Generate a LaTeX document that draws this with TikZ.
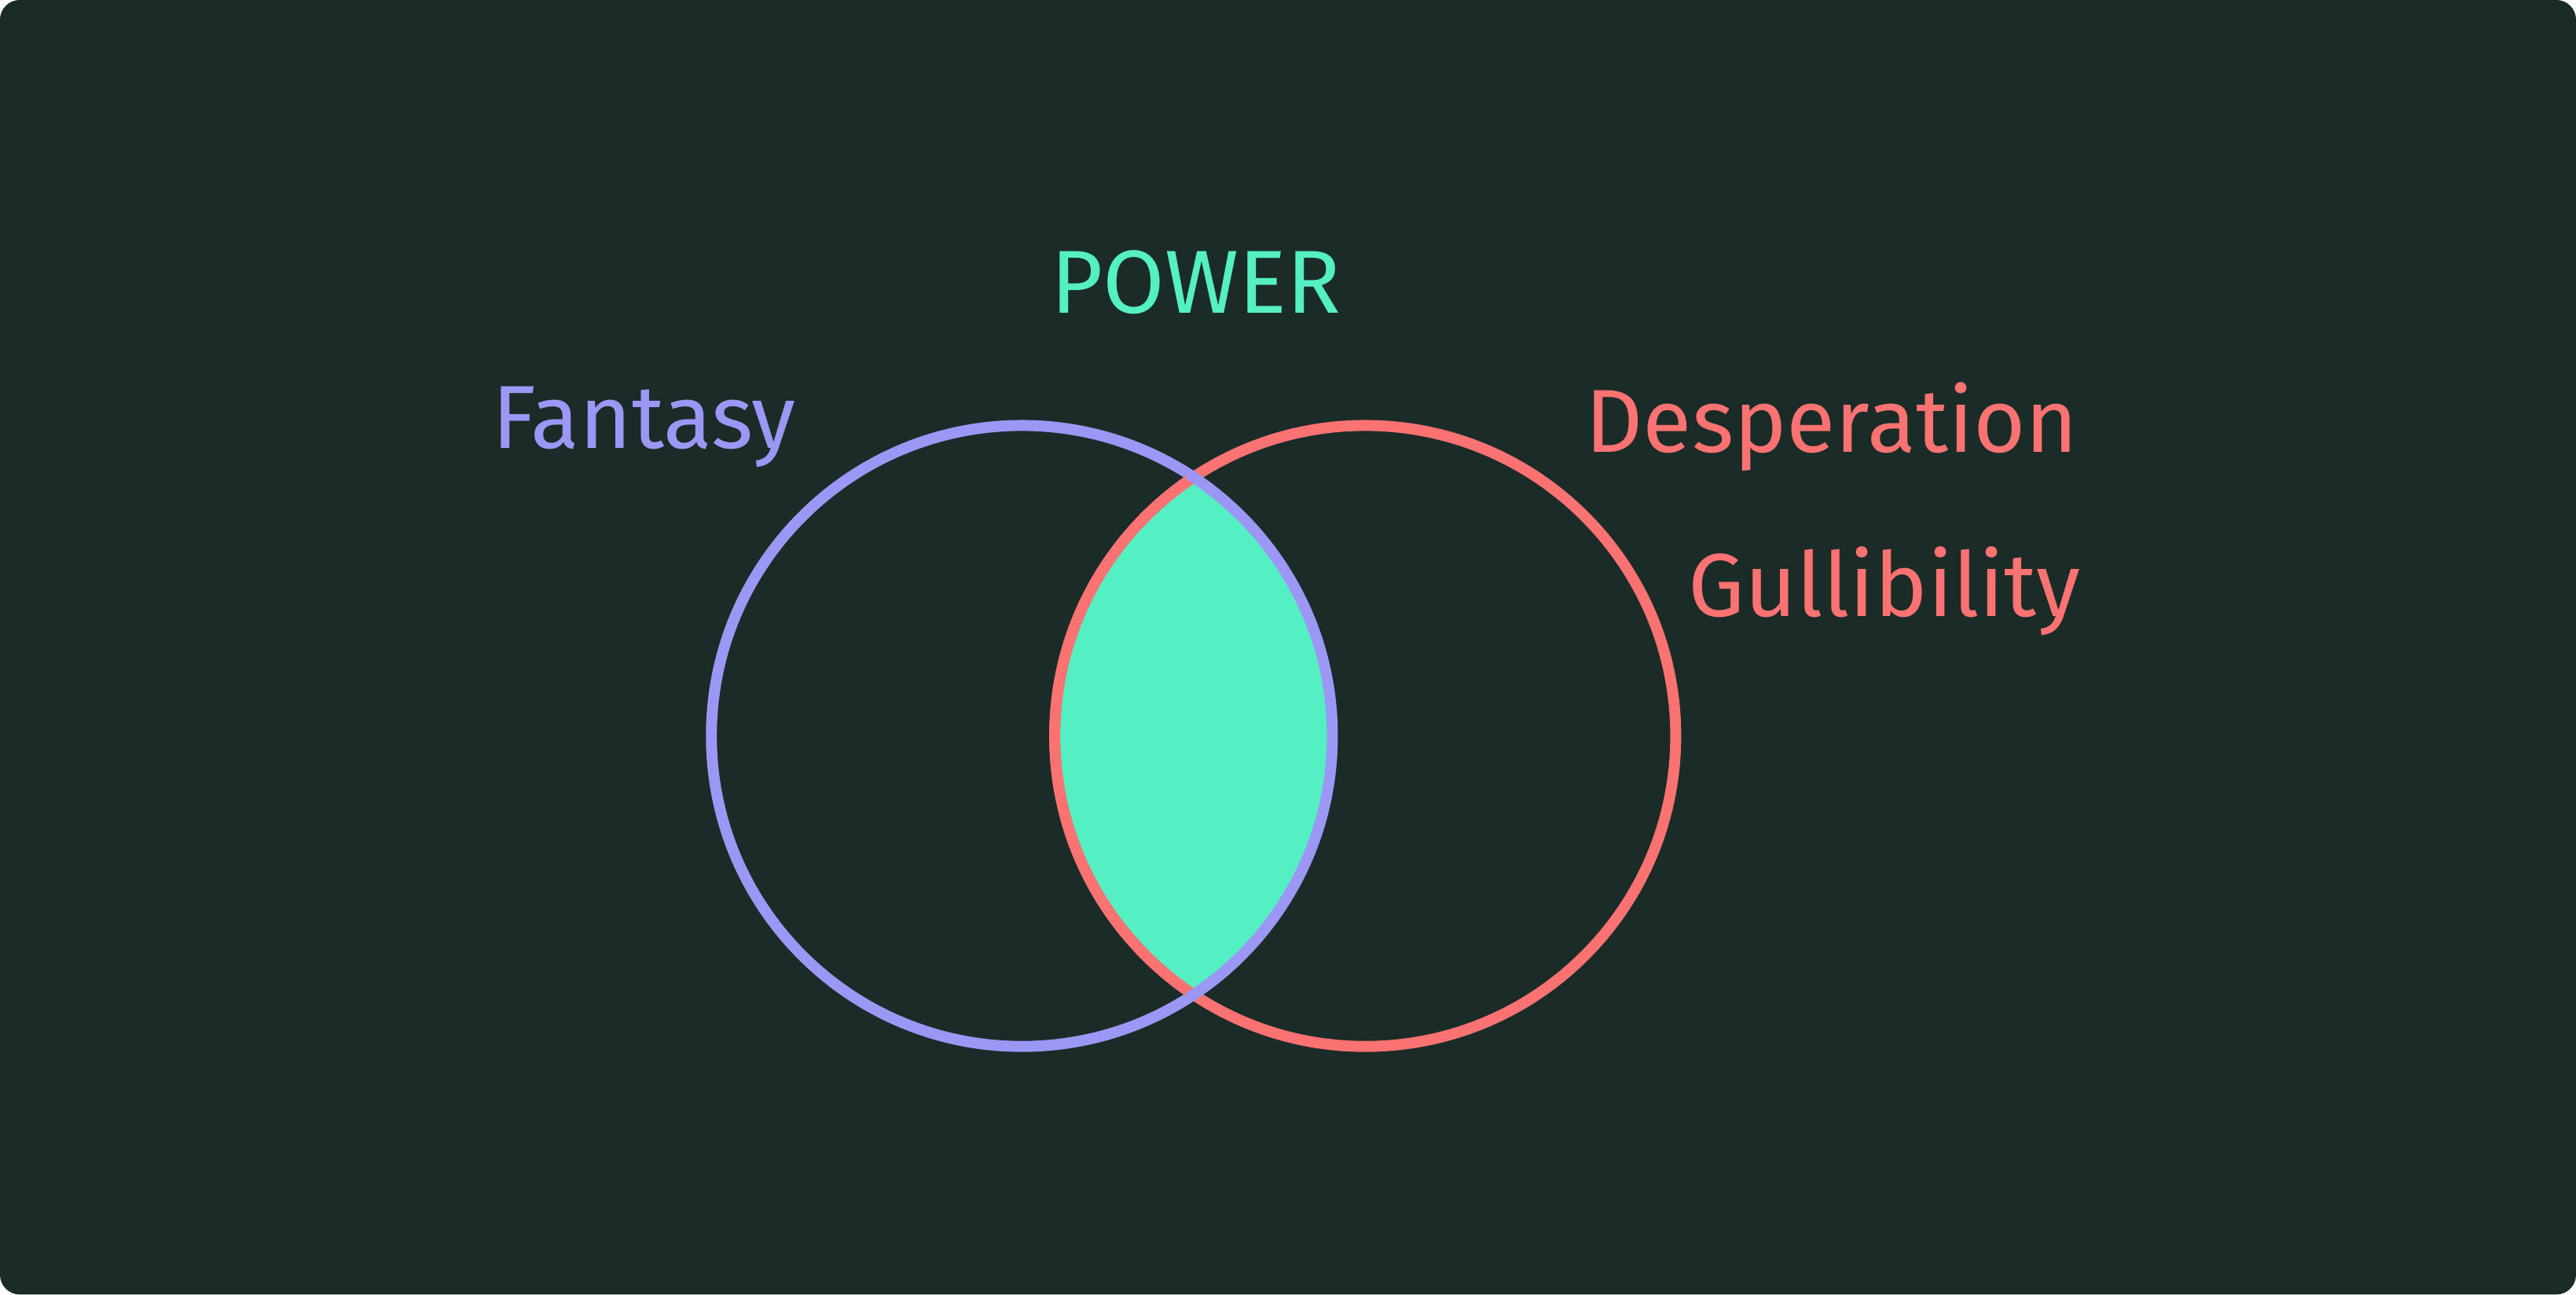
\documentclass[tikz,border=0pt]{standalone}
\usepackage{fontspec}
\setmainfont{Fira Sans}
\definecolor{board}{HTML}{1B2B27}
\definecolor{fantasyc}{HTML}{9C97F5}
\definecolor{despc}{HTML}{FA7272}
\definecolor{powerc}{HTML}{55EFC4}
\tikzset{ring/.style = {line width=1.9pt},
         lbl/.style  = {font=\fontsize{15.5}{18}\selectfont, inner sep=0pt}}
\begin{document}
\begin{tikzpicture}
    \fill[board, rounded corners=0.12cm] (0,0) rectangle (15.68,7.88);
    \useasboundingbox (0,0) rectangle (15.68,7.88);
    \coordinate (cl) at (6.22,3.40);
    \coordinate (cr) at (8.31,3.40);
    % lens
    \begin{scope}
      \clip (cl) circle (1.89);
      \fill[powerc] (cr) circle (1.89);
    \end{scope}
    \draw[ring, despc] (cr) circle (1.89);
    \draw[ring, fantasyc] (cl) circle (1.89);
    \begin{scope}
      \clip (cl) ++(1.0,-2.5) rectangle ++(-3.2,5.0);
      \draw[ring, despc] (cr) circle (1.89);
    \end{scope}
    \node[lbl, text=powerc] (power) at (7.28,6.16) {POWER};
    \node[lbl, text=fantasyc] (fantasy) at (3.92,5.28) {Fantasy};
    \node[lbl, text=despc] (desp) at (11.15,5.28) {Desperation};
    \node[lbl, text=despc] (gull) at (11.47,4.28) {Gullibility};
\end{tikzpicture}
\end{document}
